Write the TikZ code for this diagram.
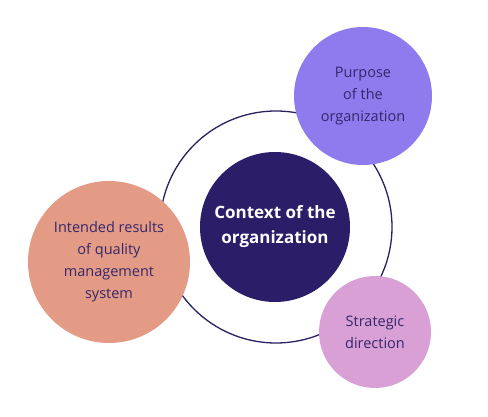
\documentclass[tikz,border=0pt]{standalone}
\usepackage{fontspec}
\setmainfont{Open Sans}
\usetikzlibrary{positioning}
\definecolor{ink}{HTML}{35276A}
\definecolor{ringC}{HTML}{2A2160}
\definecolor{coreC}{HTML}{2C1D69}
\definecolor{purpC}{HTML}{8F7BEE}
\definecolor{salmC}{HTML}{E39B85}
\definecolor{pinkC}{HTML}{D8A0D5}
\tikzset{
  ring/.style={circle,draw=ringC,line width=1.3pt,inner sep=0pt},
  bubble/.style={circle,inner sep=0pt,align=center,text=ink,font=\fontsize{14.5}{22}\selectfont},
  core/.style={circle,fill=coreC,inner sep=0pt,align=center,text=white,
    font=\fontsize{17}{25}\selectfont\bfseries}}
\begin{document}
\begin{tikzpicture}[x=1pt,y=-1pt]
\useasboundingbox[fill=white] (0,0) rectangle (488,417);
\node[ring,minimum size=232pt] (orbit) at (276,227) {};
\node[core,minimum size=150pt] (ctx) at (275,227) {Context of the\\organization};
\node[bubble,fill=purpC,minimum size=138pt] (purpose) at (363,96) {Purpose\\of the\\organization};
\node[bubble,fill=salmC,minimum size=162pt] (results) at (109,262) {Intended results\\of quality\\management\\system};
\node[bubble,fill=pinkC,minimum size=112pt] (strat) at (375,332) {Strategic\\direction};
\end{tikzpicture}
\end{document}
